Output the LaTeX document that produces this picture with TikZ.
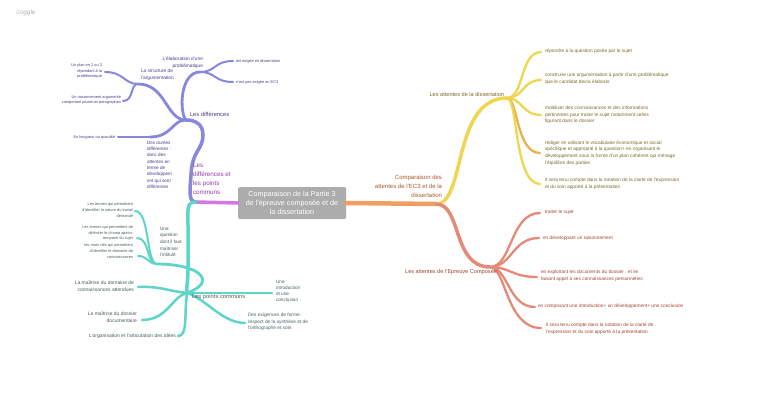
\documentclass[tikz,border=0pt]{standalone}
\usepackage{fontspec}
\setmainfont{Liberation Sans}
\definecolor{cPur}{RGB}{135,135,222}
\definecolor{cPink}{RGB}{214,120,228}
\definecolor{cTeal}{RGB}{95,212,200}
\definecolor{cOrg}{RGB}{240,158,100}
\definecolor{cYel}{RGB}{238,214,80}
\definecolor{cYor}{RGB}{236,176,84}
\definecolor{cRed}{RGB}{228,138,120}
\definecolor{tPur}{RGB}{70,64,140}
\definecolor{tPink}{RGB}{150,60,175}
\definecolor{tTeal}{RGB}{70,96,96}
\definecolor{tOrg}{RGB}{165,90,45}
\definecolor{tYel}{RGB}{125,105,40}
\definecolor{tRed}{RGB}{160,70,45}
\definecolor{cBox}{RGB}{172,172,172}
\newcommand\fsLeaf{\fontsize{4.8}{6.7}\selectfont}
\newcommand\fsTiny{\fontsize{3.9}{5.8}\selectfont}
\newcommand\fsMid{\fontsize{4.8}{6.2}\selectfont}
\newcommand\fsMain{\fontsize{5.8}{7.5}\selectfont}
\begin{document}
\begin{tikzpicture}[x=1pt,y=-1pt,
  brw/.style={line width=#1, line cap=round},
  lbl/.style={inner sep=0pt, outer sep=0pt}]
\useasboundingbox (0,0) rectangle (768,401);
\fill[white] (0,0) rectangle (768,401);

\node[lbl, text=black!30, font=\fontsize{6.5}{7}\selectfont\itshape] (logo) at (26,13) {coggle};

% root
\node[fill=cBox, rounded corners=1.5pt, minimum width=108pt, minimum height=32pt, inner sep=1pt, align=center, text=white, font=\fontsize{7.2}{9.4}\selectfont] (root) at (292,203) {Comparaison de la Partie 3\\de l'épreuve composée et de\\la dissertation};

% hubs
\coordinate (jo) at (436,204);
\coordinate (jy) at (507,98);
\coordinate (jr) at (490,267);
\coordinate (jl) at (196,202);
\coordinate (jp) at (186,120);
\coordinate (jel) at (200,72);
\coordinate (jst) at (138,84);
\coordinate (jd) at (150,137);
\coordinate (jt) at (187,293);
\coordinate (jq) at (157,264);
% leaf ends
\coordinate (y1) at (541,52);
\coordinate (y2) at (541,80);
\coordinate (y3) at (541,115);
\coordinate (y4) at (540,153);
\coordinate (y5) at (540,184);
\coordinate (r1) at (540,213);
\coordinate (r2) at (539,238);
\coordinate (r3) at (537,277);
\coordinate (r4) at (535,307);
\coordinate (r5) at (541,328);
\coordinate (e1) at (233,61);
\coordinate (e2) at (233,82);
\coordinate (s1) at (105,72);
\coordinate (s2) at (123,101);
\coordinate (d1) at (118,137);
\coordinate (q1) at (135,211);
\coordinate (q2) at (137,238);
\coordinate (q3) at (138,256);
\coordinate (t1) at (138,287);
\coordinate (t2) at (272,293);
\coordinate (t3) at (142,320);
\coordinate (t4) at (178,336);
\coordinate (t5) at (245,323);

% right side
\draw[cOrg, brw=4.5] (root.east) -- (jo);
\draw[cYel, brw=3.5] (jo) .. controls (466,204) and (452,98) .. (jy);
\draw[cRed, brw=3.5] (jo) .. controls (462,204) and (452,267) .. (jr);
\draw[cYel, brw=2.3] (jy) .. controls (524,98) and (520,52) .. (y1);
\draw[cYel, brw=2.3] (jy) .. controls (524,98) and (522,80) .. (y2);
\draw[cYel, brw=2.3] (jy) .. controls (522,98) and (522,115) .. (y3);
\draw[cYor, brw=2.3] (jy) .. controls (518,98) and (516,153) .. (y4);
\draw[cYel, brw=2.3] (jy) .. controls (518,98) and (514,184) .. (y5);
\draw[cRed, brw=2.3] (jr) .. controls (512,267) and (510,213) .. (r1);
\draw[cRed, brw=2.3] (jr) .. controls (512,267) and (512,238) .. (r2);
\draw[cRed, brw=2.3] (jr) .. controls (510,267) and (512,277) .. (r3);
\draw[cRed, brw=2.3] (jr) .. controls (508,267) and (508,307) .. (r4);
\draw[cRed, brw=2.3] (jr) .. controls (506,267) and (506,328) .. (r5);

% left side
\draw[cPink, brw=3.5] (root.west) -- (jl);
\draw[cPur, brw=3.5] (jl) .. controls (188,202) and (190,190) .. (191,175) .. controls (192,150) and (203,150) .. (203,135) .. controls (203,124) and (195,120) .. (jp);
\draw[cTeal, brw=3.5] (jl) .. controls (186,202) and (188,210) .. (188,225) -- (188,270) .. controls (188,282) and (186,288) .. (jt);

\draw[cPur, brw=2.8] (jp) .. controls (179,112) and (180,72) .. (jel);
\draw[cPur, brw=2] (jel) .. controls (216,72) and (214,61) .. (e1);
\draw[cPur, brw=2] (jel) .. controls (216,72) and (214,82) .. (e2);
\draw[cPur, brw=2.8] (jp) .. controls (166,120) and (166,84) .. (jst);
\draw[cPur, brw=2] (jst) .. controls (124,84) and (124,72) .. (s1);
\draw[cPur, brw=2] (jst) .. controls (130,84) and (134,101) .. (s2);
\draw[cPur, brw=2.8] (jp) .. controls (172,120) and (172,137) .. (jd);
\draw[cPur, brw=2] (jd) -- (d1);

\draw[cTeal, brw=2.8] (jt) .. controls (218,282) and (200,264) .. (jq);
\draw[cTeal, brw=2] (jq) .. controls (146,264) and (150,211) .. (q1);
\draw[cTeal, brw=2] (jq) .. controls (146,264) and (150,238) .. (q2);
\draw[cTeal, brw=2] (jq) .. controls (148,264) and (148,256) .. (q3);
\draw[cTeal, brw=2.5] (jt) .. controls (168,291) and (160,286) .. (t1);
\draw[cTeal, brw=2.5] (jt) -- (t2);
\draw[cTeal, brw=2.5] (jt) .. controls (172,296) and (168,320) .. (t3);
\draw[cTeal, brw=2.5] (jt) .. controls (184,315) and (188,336) .. (t4);
\draw[cTeal, brw=2.5] (jt) .. controls (205,298) and (222,323) .. (t5);

% right texts
\node[lbl, anchor=east, align=right, text=tOrg, font=\fontsize{6}{9}\selectfont] (lo) at (442,186) {Comparaison des\\attentes de l'EC3 et de la\\dissertation};
\node[lbl, anchor=east, text=tYel, font=\fontsize{5.6}{7}\selectfont] (ly) at (504,94) {Les attentes de la dissertation};
\node[lbl, anchor=east, text=tRed, font=\fontsize{5.6}{7}\selectfont] (lr) at (497,272) {Les attentes de l'Epreuve Composée};

\node[lbl, anchor=west, align=left, text=tYel, font=\fsLeaf] (ya) at (545,51) {répondre à la question posée par le sujet};
\node[lbl, anchor=west, align=left, text=tYel, font=\fsLeaf] (yb) at (545,79) {construire une argumentation à partir d'une problématique\\que le candidat devra élaborer};
\node[lbl, anchor=west, align=left, text=tYel, font=\fsLeaf] (yc) at (545,115) {mobiliser des connaissances et des informations\\pertinentes pour traiter le sujet notamment celles\\figurant dans le dossier};
\node[lbl, anchor=west, align=left, text=tYel, font=\fsLeaf] (yd) at (545,153) {rédiger en utilisant le vocabulaire économique et social\\spécifique et approprié à la question+ en organisant le\\développement sous la forme d'un plan cohérent qui ménage\\l'équilibre des parties};
\node[lbl, anchor=west, align=left, text=tYel, font=\fsLeaf] (ye) at (545,184) {Il sera tenu compte dans la notation de la clarté de l'expression\\et du soin apporté à la présentation};

\node[lbl, anchor=west, align=left, text=tRed, font=\fsLeaf] (ra) at (545,212) {traiter le sujet};
\node[lbl, anchor=west, align=left, text=tRed, font=\fsLeaf] (rb) at (543,238) {en développant un raisonnement};
\node[lbl, anchor=west, align=left, text=tRed, font=\fsLeaf] (rc) at (541,276) {en exploitant les documents du dossier , et en\\faisant appel à ses connaissances personnelles};
\node[lbl, anchor=west, align=left, text=tRed, font=\fsLeaf] (rd) at (538,306) {en composant une introduction+ un développement+ une conclusion};
\node[lbl, anchor=west, align=left, text=tRed, font=\fsLeaf] (re) at (546,329) {Il sera tenu compte dans la notation de la clarté de\\l'expression et du soin apporté à la présentation};

% left texts
\node[lbl, anchor=north west, align=left, text=tPink, font=\fontsize{6.3}{9}\selectfont] (lp) at (193,163) {Les\\différences et\\les points\\communs};
\node[lbl, anchor=west, text=tPur, font=\fsMain] (ld) at (190,114) {Les différences};
\node[lbl, anchor=south east, align=right, text=tPur, font=\fsMid] (lel) at (203,68) {L'élaboration d'une\\problématique};
\node[lbl, anchor=west, text=tPur, font=\fsTiny] (le1) at (236,61) {est exigée en dissertation};
\node[lbl, anchor=west, text=tPur, font=\fsTiny] (le2) at (236,82) {n'est pas exigée en EC3};
\node[lbl, anchor=south west, align=left, text=tPur, font=\fsMid] (lst) at (141,80) {La structure de\\l'argumentation};
\node[lbl, anchor=east, align=right, text=tPur, font=\fsTiny] (ls1) at (102,71) {Un plan en 2 ou 3\\répondant à la\\problématique};
\node[lbl, anchor=east, align=right, text=tPur, font=\fsTiny] (ls2) at (121,100) {Un raisonnement argumenté\\comportant plusieurs paragraphes};
\node[lbl, anchor=east, text=tPur, font=\fsTiny] (ld1) at (115,137) {En longueur ou quantité};
\node[lbl, anchor=north west, align=left, text=tPur, font=\fontsize{4.6}{6.3}\selectfont] (ldd) at (147,141) {Des durées\\différentes :\\donc des\\attentes en\\terme de\\développem\\ent qui sont\\différentes};

\node[lbl, anchor=west, text=tTeal, font=\fsMain] (lt) at (192,297) {Les points communs};
\node[lbl, anchor=north west, align=left, text=tTeal, font=\fontsize{4.7}{6.6}\selectfont] (lq) at (160,227) {Une\\question\\dont il faut\\maîtriser\\l'intitulé};
\node[lbl, anchor=east, align=right, text=tTeal, font=\fsTiny] (lq1) at (133,210) {Les termes qui permettent\\d'identifier la nature du travail\\demandé};
\node[lbl, anchor=east, align=right, text=tTeal, font=\fsTiny] (lq2) at (133,233) {Les termes qui permettent de\\délimiter le champ spatio-\\temporel du sujet};
\node[lbl, anchor=east, align=right, text=tTeal, font=\fsTiny] (lq3) at (133,251) {les mots clés qui permettent\\d'identifier le domaine de\\connaissances};
\node[lbl, anchor=east, align=right, text=tTeal, font=\fontsize{5}{6.5}\selectfont] (lt1) at (134,286) {La maîtrise du domaine de\\connaissances attendues};
\node[lbl, anchor=west, align=left, text=tTeal, font=\fontsize{4.7}{6}\selectfont] (lt2) at (276,291) {Une\\introduction\\et une\\conclusion};
\node[lbl, anchor=east, align=right, text=tTeal, font=\fontsize{5}{7.5}\selectfont] (lt3) at (137,317) {La maîtrise du dossier\\documentaire};
\node[lbl, anchor=east, text=tTeal, font=\fontsize{5}{6.5}\selectfont] (lt4) at (176,336) {L'organisation et l'articulation des idées};
\node[lbl, anchor=west, align=left, text=tTeal, font=\fontsize{4.8}{6.3}\selectfont] (lt5) at (248,322) {Des exigences de forme :\\respect de la synthèse et de\\l'orthographe et soin};
\end{tikzpicture}
\end{document}
